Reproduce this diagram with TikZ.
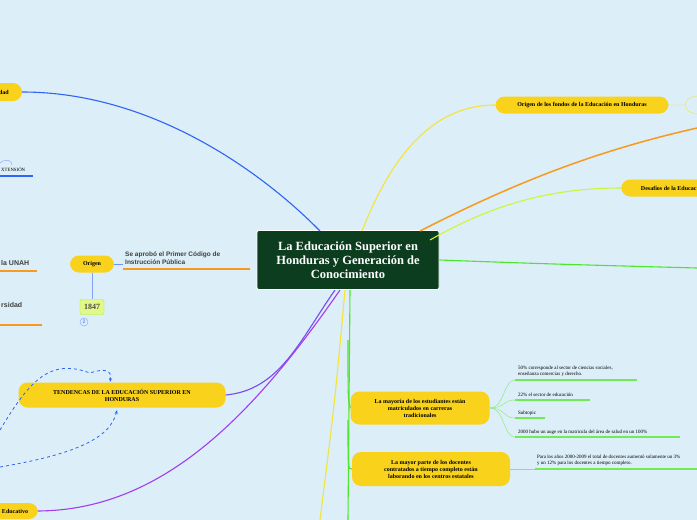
\documentclass[tikz,border=0pt]{standalone}
\usepackage{fontspec}
\setmainfont{Liberation Serif}
\newfontfamily\sansf{Liberation Sans}
\usetikzlibrary{arrows.meta}
\definecolor{bg}{HTML}{DCEEF7}
\definecolor{yel}{HTML}{F9D21C}
\definecolor{dgreen}{HTML}{0B3D1E}
\definecolor{bl}{HTML}{2F64F5}
\definecolor{org}{HTML}{F79A1E}
\definecolor{grn}{HTML}{4CE62A}
\definecolor{lim}{HTML}{CFF53A}
\definecolor{pur}{HTML}{A23CF0}
\definecolor{yl}{HTML}{F5E33A}
\tikzset{
 topic/.style={fill=yel,rounded corners=9pt,font=\bfseries\fontsize{6}{7}\selectfont,align=center,inner sep=3pt},
 sub/.style={font=\fontsize{5}{6.5}\selectfont,align=left,anchor=south west,inner sep=1pt},
 ssub/.style={font=\sansf\bfseries\fontsize{7}{8}\selectfont,text=black!75,align=left,anchor=south west,inner sep=1pt},
 br/.style={line width=1.1pt},
 ul/.style={line width=1.6pt},
}
\begin{document}
\begin{tikzpicture}[x=1pt,y=-1pt]
\fill[bg] (0,0) rectangle (697,520);
\useasboundingbox (0,0) rectangle (697,520);
\node[fill=dgreen,rounded corners=2pt,draw=white,line width=0.8pt,text=white,font=\bfseries\fontsize{12.5}{14}\selectfont,align=center,minimum width=182pt,minimum height=59pt] (c) at (348,260) {La Educación Superior en\\Honduras y Generación de\\Conocimiento};
% left side
\node[topic,minimum width=60pt,minimum height=18pt] (d) at (-8,92) {\hspace*{24pt}dad};
\draw[bl,br] (d.east) .. controls (150,92) and (260,170) .. (320,231);
\node[sub,font=\fontsize{4.8}{5}\selectfont] (ext) at (0,173) {XTENSIÓN};
\draw[bl,ul] (0,176) -- (33,176);
\draw[bl!60,thin] (0,163) .. controls (6,158) and (12,160) .. (12,165);
\node[ssub] (un) at (0,267) {la UNAH};
\draw[org,ul] (0,271) -- (37,271);
\node[ssub] (rs) at (0,309) {rsidad};
\draw[org,ul] (0,325) -- (42,325);
\node[topic,minimum width=44pt,minimum height=17pt] (or) at (92,264) {Origen};
\node[ssub,font=\sansf\bfseries\fontsize{6.5}{8.5}\selectfont] (pc) at (124,266) {Se aprobó el Primer Código de\\Instrucción Pública};
\draw[bl!70] (or.east) -- (123,264);
\draw[org,ul] (123,269) -- (250,269);
\node[fill=lim!60,draw=lim!80!green,rounded corners=1.5pt,font=\bfseries\fontsize{8}{9}\selectfont,text=black!70,minimum width=24pt,minimum height=15pt] (y) at (92,307) {1847};
\draw[bl!60] (or.south) -- (y.north);
\node[circle,draw=bl!60,inner sep=0pt,minimum size=8pt,font=\sansf\fontsize{5}{5}\selectfont,text=bl] (two) at (84,322) {2};
\node[topic,minimum width=207pt,minimum height=25pt] (t) at (122,395) {TENDENCAS DE LA EDUCACIÓN SUPERIOR EN\\HONDURAS};
\draw[pur!60!bl,br] (t.east) .. controls (280,390) and (300,340) .. (335,290);
\draw[bl,dashed,thick,-{Stealth[length=4pt]}] (0,430) .. controls (30,380) and (50,358) .. (90,373) .. controls (105,368) and (112,370) .. (110,382);
\draw[bl,dashed,thick,-{Stealth[length=4pt]}] (0,467) .. controls (70,455) and (110,440) .. (117,410);
\node[topic,minimum width=50pt,minimum height=16pt] (ed) at (13,511) {\hspace*{4pt}Educativo};
\draw[pur,br] (ed.east) .. controls (160,510) and (250,420) .. (340,290);
% right side
\node[topic,minimum width=173pt,minimum height=17pt] (of) at (582,105) {Origen de los fondos de la Educación en Honduras};
\draw[yl,br] (362,231) .. controls (390,160) and (430,105) .. (of.west);
\draw[yl] (of.east) -- (685,105) .. controls (688,98) .. (697,96);
\draw[yl] (685,105) .. controls (688,112) .. (697,114);
\draw[org,line width=1.5pt] (420,231) .. controls (520,180) and (600,150) .. (697,128);
\node[topic,minimum width=95pt,minimum height=17pt,anchor=west] (de) at (621,188) {Desafíos de la Educac};
\draw[lim,br] (430,240) .. controls (500,200) and (560,188) .. (de.west);
\draw[grn,br] (c.east) .. controls (550,264) .. (697,268);
\draw[yl,br] (345,290) .. controls (335,400) .. (320,520);
\draw[grn,br] (350,290) -- (348,520);
\node[topic,minimum width=139pt,minimum height=33pt] (m1) at (420,408) {La mayoría de los estudiantes están\\matriculados en carreras\\tradicionales};
\node[topic,minimum width=158pt,minimum height=34pt] (m2) at (431,469) {La mayor parte de los docentes\\contratados a tiempo completo están\\laborando en los centros estatales};
\draw[grn,br] (348,340) .. controls (348,400) .. (m1.west);
\draw[grn,br] (348,420) .. controls (348,469) .. (m2.west);
\node[sub] (s1) at (517,378) {50\% corresponde al sector de ciencias sociales,\\enseñanza comercias y derecho.};
\node[sub] (s2) at (517,398) {22\% el sector de educación};
\node[sub] (s3) at (517,417) {Subtopic};
\node[sub] (s4) at (517,436) {2000 hubo un auge en la matricula del área de salud en un 100\%};
\draw[grn!80,ul] (515,380) -- (637,380);
\draw[grn!80,ul] (515,400) -- (590,400);
\draw[grn!80,ul] (515,418) -- (545,418);
\draw[grn!80,ul] (515,437) -- (680,437);
\foreach \yy in {380,400,418,437} \draw[grn!70] (m1.east) .. controls (505,408) and (503,\yy) .. (515,\yy);
\node[sub] (s5) at (536,467) {Para los años 2000-2009 el total de docentes aumentó solamente un 3\%\\y un 12\% para los docentes a tiempo completo.};
\draw[grn!70] (m2.east) -- (535,469);
\draw[grn!80,ul] (535,469) -- (697,469);
\end{tikzpicture}
\end{document}
